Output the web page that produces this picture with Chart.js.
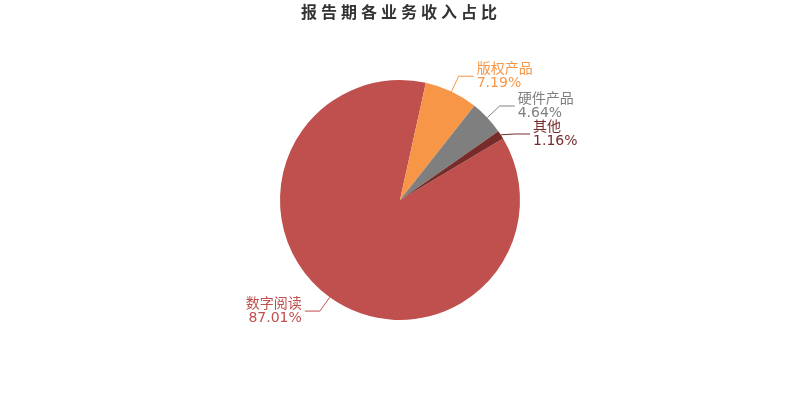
<!DOCTYPE html>
<html>
<head>
<meta charset="utf-8">
<script src="https://cdn.jsdelivr.net/npm/chart.js@4.4.1/dist/chart.umd.min.js"></script>
<style>
  html, body { margin: 0; padding: 0; background: #fff; }
  #wrap { width: 800px; height: 400px; position: relative; }
</style>
</head>
<body>
<div id="wrap"><canvas id="c"></canvas></div>
<script>
// chart data
const chartTitle = '报告期各业务收入占比';
const categories = ['数字阅读', '版权产品', '硬件产品', '其他'];
const shares = [87.01, 7.19, 4.64, 1.16];
const sliceColors = ['#c0504d', '#f79646', '#7f7f7f', '#772c2a'];

const FONT = '"DejaVu Sans", "Noto Sans CJK SC", sans-serif';

// outside labels with bent leader lines
const outsideLabels = {
  id: 'outsideLabels',
  afterDraw(chart) {
    const ctx = chart.ctx;
    const meta = chart.getDatasetMeta(0);
    const items = meta.data.map((arc, i) => {
      const mid = (arc.startAngle + arc.endAngle) / 2;
      const r = arc.outerRadius;
      const p0 = { x: arc.x + Math.cos(mid) * r, y: arc.y + Math.sin(mid) * r };
      const p1 = { x: arc.x + Math.cos(mid) * (r + 17), y: arc.y + Math.sin(mid) * (r + 17) };
      return { i, mid, p0, p1, right: Math.cos(mid) >= 0 };
    });
    // keep labels apart on each side
    [true, false].forEach(side => {
      const list = items.filter(it => it.right === side).sort((a, b) => a.p1.y - b.p1.y);
      for (let k = 1; k < list.length; k++) {
        if (list[k].p1.y - list[k - 1].p1.y < 28) list[k].p1.y = list[k - 1].p1.y + 28;
      }
    });
    ctx.save();
    ctx.font = '14px ' + FONT;
    ctx.textBaseline = 'middle';
    items.forEach(it => {
      const col = sliceColors[it.i];
      const dir = it.right ? 1 : -1;
      const p2 = { x: it.p1.x + dir * 15, y: it.p1.y };
      ctx.strokeStyle = col;
      ctx.lineWidth = 1;
      ctx.beginPath();
      ctx.moveTo(it.p0.x, it.p0.y);
      ctx.lineTo(it.p1.x, it.p1.y);
      ctx.lineTo(p2.x, p2.y);
      ctx.stroke();
      ctx.fillStyle = col;
      ctx.textAlign = it.right ? 'left' : 'right';
      const tx = p2.x + dir * 3;
      ctx.fillText(categories[it.i], tx, p2.y - 7);
      ctx.fillText(shares[it.i].toFixed(2) + '%', tx, p2.y + 7);
    });
    // title
    ctx.font = 'bold 16px ' + FONT;
    ctx.fillStyle = '#333';
    ctx.textAlign = 'center';
    ctx.letterSpacing = '4px';
    ctx.fillText(chartTitle, 401, 14);
    ctx.restore();
  }
};

new Chart(document.getElementById('c'), {
  type: 'pie',
  data: {
    labels: categories,
    datasets: [{
      data: shares,
      backgroundColor: sliceColors,
      borderWidth: 0
    }]
  },
  options: {
    responsive: true,
    maintainAspectRatio: false,
    animation: false,
    rotation: 59.2,
    layout: { padding: { top: 80, bottom: 80 } },
    plugins: {
      legend: { display: false },
      tooltip: { enabled: false }
    }
  },
  plugins: [outsideLabels]
});
</script>
</body>
</html>
